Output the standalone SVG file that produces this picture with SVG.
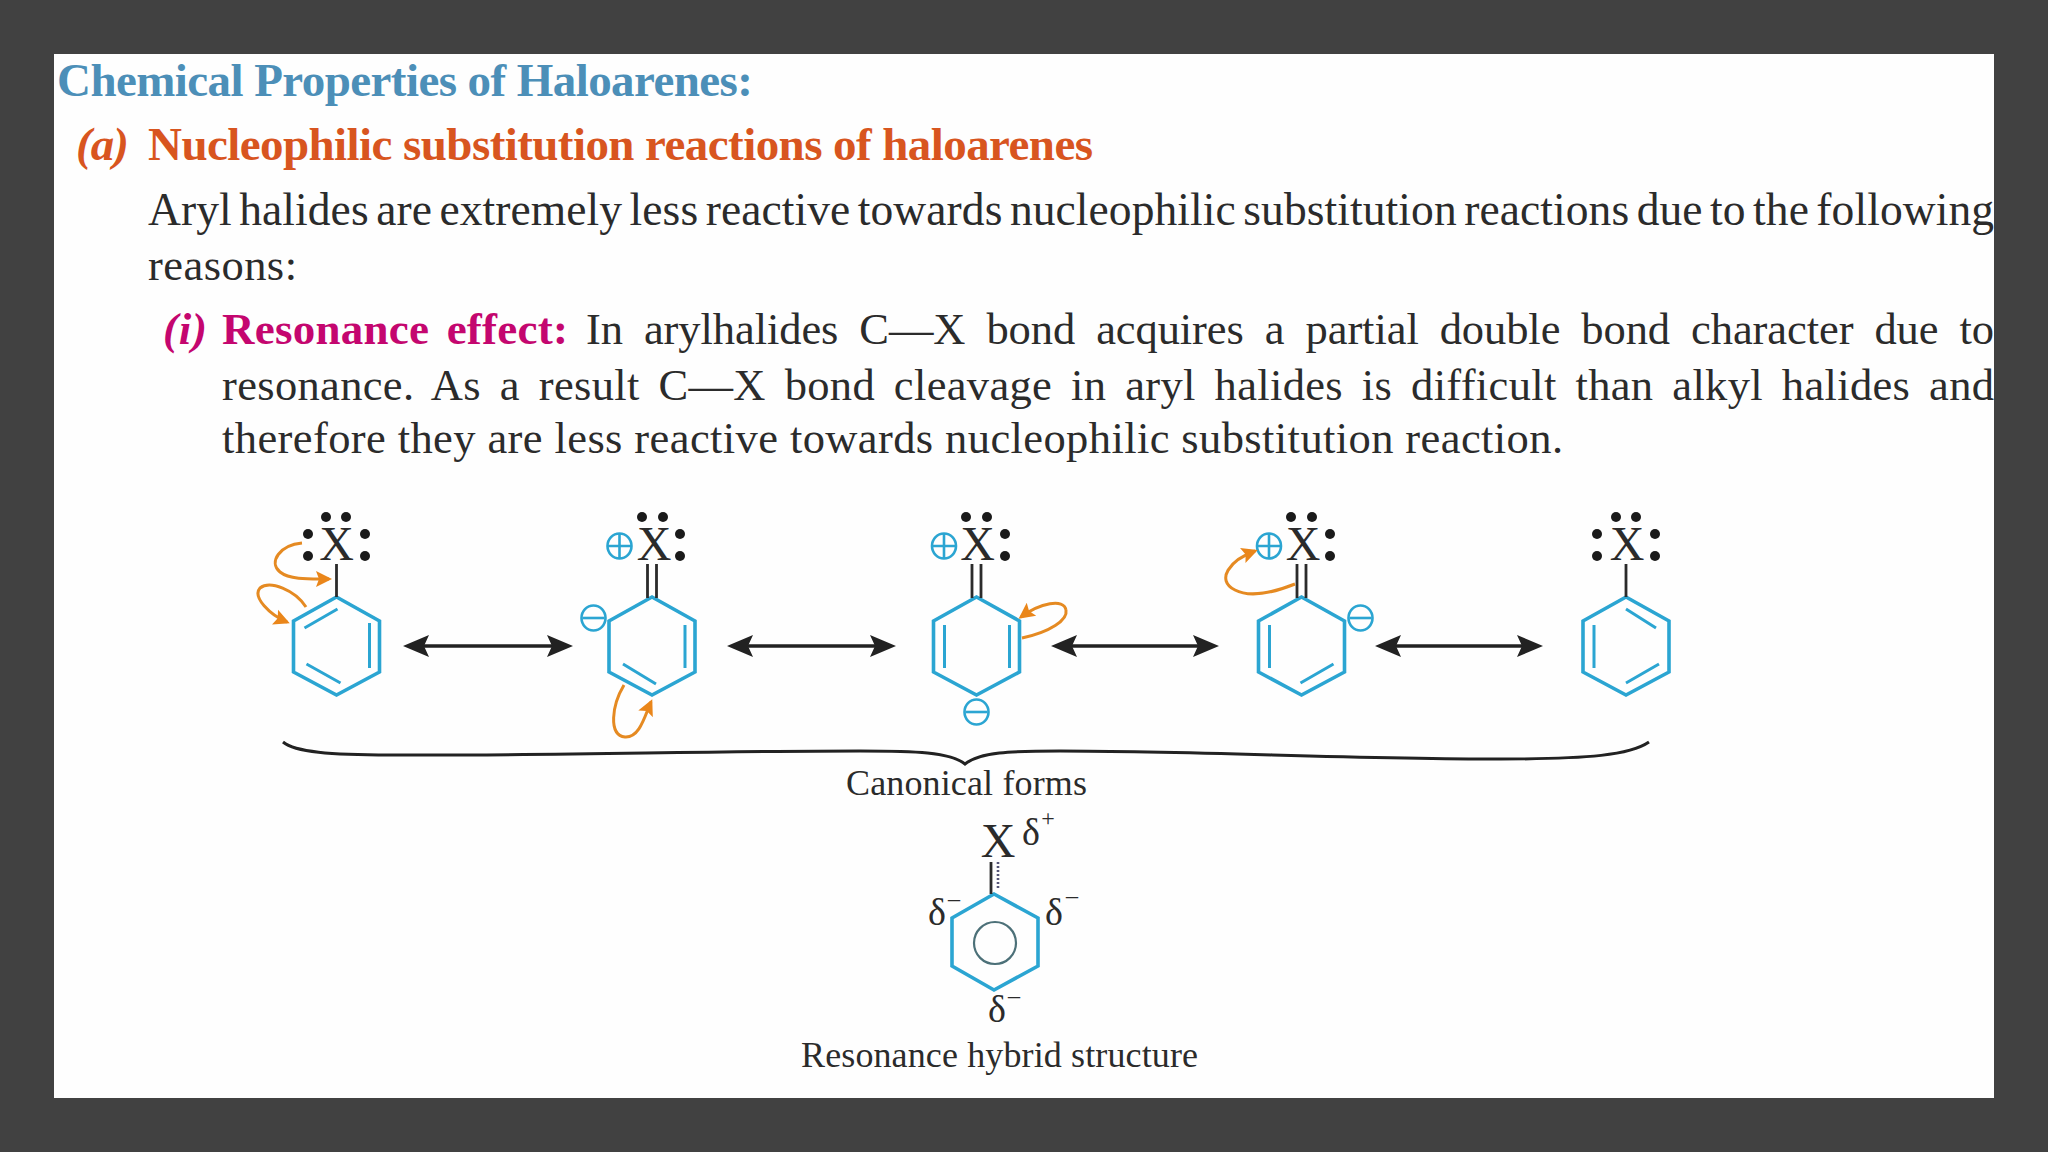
<svg xmlns="http://www.w3.org/2000/svg" xmlns:xlink="http://www.w3.org/1999/xlink" width="2048" height="1152" viewBox="0 0 2048 1152">
<style>
text{font-family:"Liberation Serif","Times New Roman",serif;fill:#2b2b2b}
.t{font-size:44.5px}
.b{font-weight:bold}
.ring{fill:none;stroke:#2ba5d2;stroke-width:3.6;stroke-linejoin:miter}
.in{fill:none;stroke:#2ba5d2;stroke-width:3}
.bond{stroke:#2b2b2b;stroke-width:2.8;fill:none}
.x{font-size:48px;text-anchor:middle}
.dot{fill:#1a1a1a}
.chg{fill:none;stroke:#2ba5d2;stroke-width:2.6}
.ora{fill:none;stroke:#e58a22;stroke-width:3}
.dbl{stroke:#222;stroke-width:3.6;fill:none;marker-start:url(#ah);marker-end:url(#ah)}
.d{font-size:38px;text-anchor:middle}
.s{font-size:24px;text-anchor:middle}
.cap{font-size:36px}
</style>
<defs>
<polygon id="hex" class="ring" points="0,-49 43,-25 43,26 0,49 -43,26 -43,-25"/>
<marker id="ah" markerUnits="userSpaceOnUse" markerWidth="28" markerHeight="24" refX="18" refY="12" orient="auto-start-reverse"><path d="M26,12 L0,1 L5,12 L0,23 Z" fill="#222"/></marker>
<marker id="oh" markerUnits="userSpaceOnUse" markerWidth="20" markerHeight="18" refX="13" refY="9" orient="auto"><path d="M16,9 L0,1 L3,9 L0,17 Z" fill="#ea861a"/></marker>
<g id="plus"><ellipse class="chg" rx="12" ry="12.5"/><path class="chg" d="M-12,0H12M0,-12.5V12.5"/></g>
<g id="minus"><ellipse class="chg" rx="12" ry="12.5"/><path class="chg" d="M-11,0H11"/></g>
</defs>
<rect width="2048" height="1152" fill="#414141"/>
<rect x="54" y="54" width="1940" height="1044" fill="#fefefe"/>
<g id="text">
<text x="57" y="96" class="b" font-size="47" style="fill:#4c8fb8" textLength="696">Chemical Properties of Haloarenes:</text>
<text x="76" y="160" class="b" font-size="47" style="fill:#d8551f;font-style:italic" textLength="53">(a)</text>
<text x="148" y="160" class="b" font-size="47" style="fill:#d8551f" textLength="945">Nucleophilic substitution reactions of haloarenes</text>
<text x="148" y="225" font-size="45.5" word-spacing="-4" textLength="1846">Aryl halides are extremely less reactive towards nucleophilic substitution reactions due to the following</text>
<text x="148" y="280" class="t" textLength="149">reasons:</text>
<text x="163" y="344" class="b" font-size="45" style="fill:#c4066f;font-style:italic" textLength="44">(i)</text>
<text x="222" y="344" class="b" font-size="45" style="fill:#c4066f" word-spacing="6" textLength="346">Resonance effect:</text>
<text x="586" y="344" class="t" word-spacing="10" textLength="1408">In arylhalides C—X bond acquires a partial double bond character due to</text>
<text x="222" y="400" class="t" word-spacing="7.4" textLength="1772">resonance. As a result C—X bond cleavage in aryl halides is difficult than alkyl halides and</text>
<text x="222" y="453" class="t" textLength="1341">therefore they are less reactive towards nucleophilic substitution reaction.</text>
</g>
<g id="form1" transform="translate(336.5,646)">
<use xlink:href="#hex" href="#hex"/>
<path class="in" d="M-32,-18L1,-37M33,-23V22M-30,18L4,37"/>
<path class="bond" d="M0,-82V-49"/>
<text class="x" y="-86">X</text>
<g class="dot"><circle cx="-10.5" cy="-129" r="5"/><circle cx="9.5" cy="-129" r="5"/><circle cx="-28.5" cy="-112" r="5"/><circle cx="-28.5" cy="-90" r="5"/><circle cx="28.5" cy="-112" r="5"/><circle cx="28.5" cy="-90" r="5"/></g>
</g>
<g id="form2" transform="translate(652,646)">
<use xlink:href="#hex" href="#hex"/>
<path class="in" d="M33,-21V22M-29,18L4,38"/>
<path class="bond" d="M-4.5,-82V-48M4.5,-82V-48"/>
<text class="x" x="2" y="-86">X</text>
<g class="dot"><circle cx="-10" cy="-129" r="5"/><circle cx="11" cy="-129" r="5"/><circle cx="28" cy="-112" r="5"/><circle cx="28" cy="-90" r="5"/></g>
<use xlink:href="#plus" href="#plus" x="-32.5" y="-100"/>
<use xlink:href="#minus" href="#minus" x="-58.5" y="-28"/>
</g>
<g id="form3" transform="translate(976.5,646)">
<use xlink:href="#hex" href="#hex"/>
<path class="in" d="M-32,-21V22M33,-21V22"/>
<path class="bond" d="M-4.5,-82V-48M4.5,-82V-48"/>
<text class="x" x="1" y="-86">X</text>
<g class="dot"><circle cx="-10.5" cy="-129" r="5"/><circle cx="10.5" cy="-129" r="5"/><circle cx="28.5" cy="-112" r="5"/><circle cx="28.5" cy="-90" r="5"/></g>
<use xlink:href="#plus" href="#plus" x="-32.5" y="-100"/>
<use xlink:href="#minus" href="#minus" x="0" y="66"/>
</g>
<g id="form4" transform="translate(1301.5,646)">
<use xlink:href="#hex" href="#hex"/>
<path class="in" d="M-32,-21V22M-1,37L32,18"/>
<path class="bond" d="M-4.5,-82V-48M4.5,-82V-48"/>
<text class="x" x="1.5" y="-86">X</text>
<g class="dot"><circle cx="-10.5" cy="-129" r="5"/><circle cx="10.5" cy="-129" r="5"/><circle cx="28.5" cy="-112" r="5"/><circle cx="28.5" cy="-90" r="5"/></g>
<use xlink:href="#plus" href="#plus" x="-32.5" y="-100"/>
<use xlink:href="#minus" href="#minus" x="59" y="-28"/>
</g>
<g id="form5" transform="translate(1626,646)">
<use xlink:href="#hex" href="#hex"/>
<path class="in" d="M-32,-21V22M0,-37L30,-18M0,37L33,18"/>
<path class="bond" d="M0,-82V-49"/>
<text class="x" x="1" y="-86">X</text>
<g class="dot"><circle cx="-10" cy="-129" r="5"/><circle cx="10" cy="-129" r="5"/><circle cx="-29" cy="-112" r="5"/><circle cx="-29" cy="-90" r="5"/><circle cx="29" cy="-112" r="5"/><circle cx="29" cy="-90" r="5"/></g>
</g>
<g id="connectors">
<path class="dbl" d="M411,646H565"/>
<path class="dbl" d="M735,646H888"/>
<path class="dbl" d="M1059,646H1211"/>
<path class="dbl" d="M1383,646H1535"/>
<path class="ora" marker-end="url(#oh)" d="M302,543C280,545 268,562 280,572C290,580 310,579 329,579"/>
<path class="ora" marker-end="url(#oh)" d="M306,607C295,590 270,580 260,588C252,597 270,615 287,622"/>
<path class="ora" marker-end="url(#oh)" d="M624,685C612,705 608,735 625,737C640,738 645,715 651,702"/>
<path class="ora" marker-end="url(#oh)" d="M1022,638C1050,632 1068,620 1066,610C1064,598 1040,603 1021,617"/>
<path class="ora" marker-end="url(#oh)" d="M1295,584C1275,592 1250,598 1235,590C1215,580 1230,560 1255,551"/>
</g>
<g id="brace">
<path d="M283,742C295,752 330,755 390,755C550,756 700,751 860,751C915,751 950,752 965,764C980,752 1010,751 1060,751C1200,751 1350,759 1500,759C1590,759 1630,755 1649,742" fill="none" stroke="#222" stroke-width="3"/>
<text class="cap" x="846" y="795" textLength="241">Canonical forms</text>
</g>
<g id="hybrid">
<polygon class="ring" points="994,894 1038,918 1038,966 994,990 952,966 952,918"/>
<circle cx="995" cy="943" r="21" fill="none" stroke="#4c7078" stroke-width="2.2"/>
<path class="bond" d="M991,862V894"/>
<path d="M998,862V890" stroke="#557" stroke-width="2.6" stroke-dasharray="2 2" fill="none"/>
<text class="x" x="998" y="857">X</text>
<text class="d" x="1031" y="845">δ</text><text class="s" x="1048" y="826">+</text>
<text class="d" x="937" y="925">δ</text><text class="s" x="954" y="906">–</text>
<text class="d" x="1054" y="925">δ</text><text class="s" x="1072" y="903">–</text>
<text class="d" x="997" y="1022">δ</text><text class="s" x="1014" y="1003">–</text>
<text class="cap" x="801" y="1067" textLength="397">Resonance hybrid structure</text>
</g>
</svg>
